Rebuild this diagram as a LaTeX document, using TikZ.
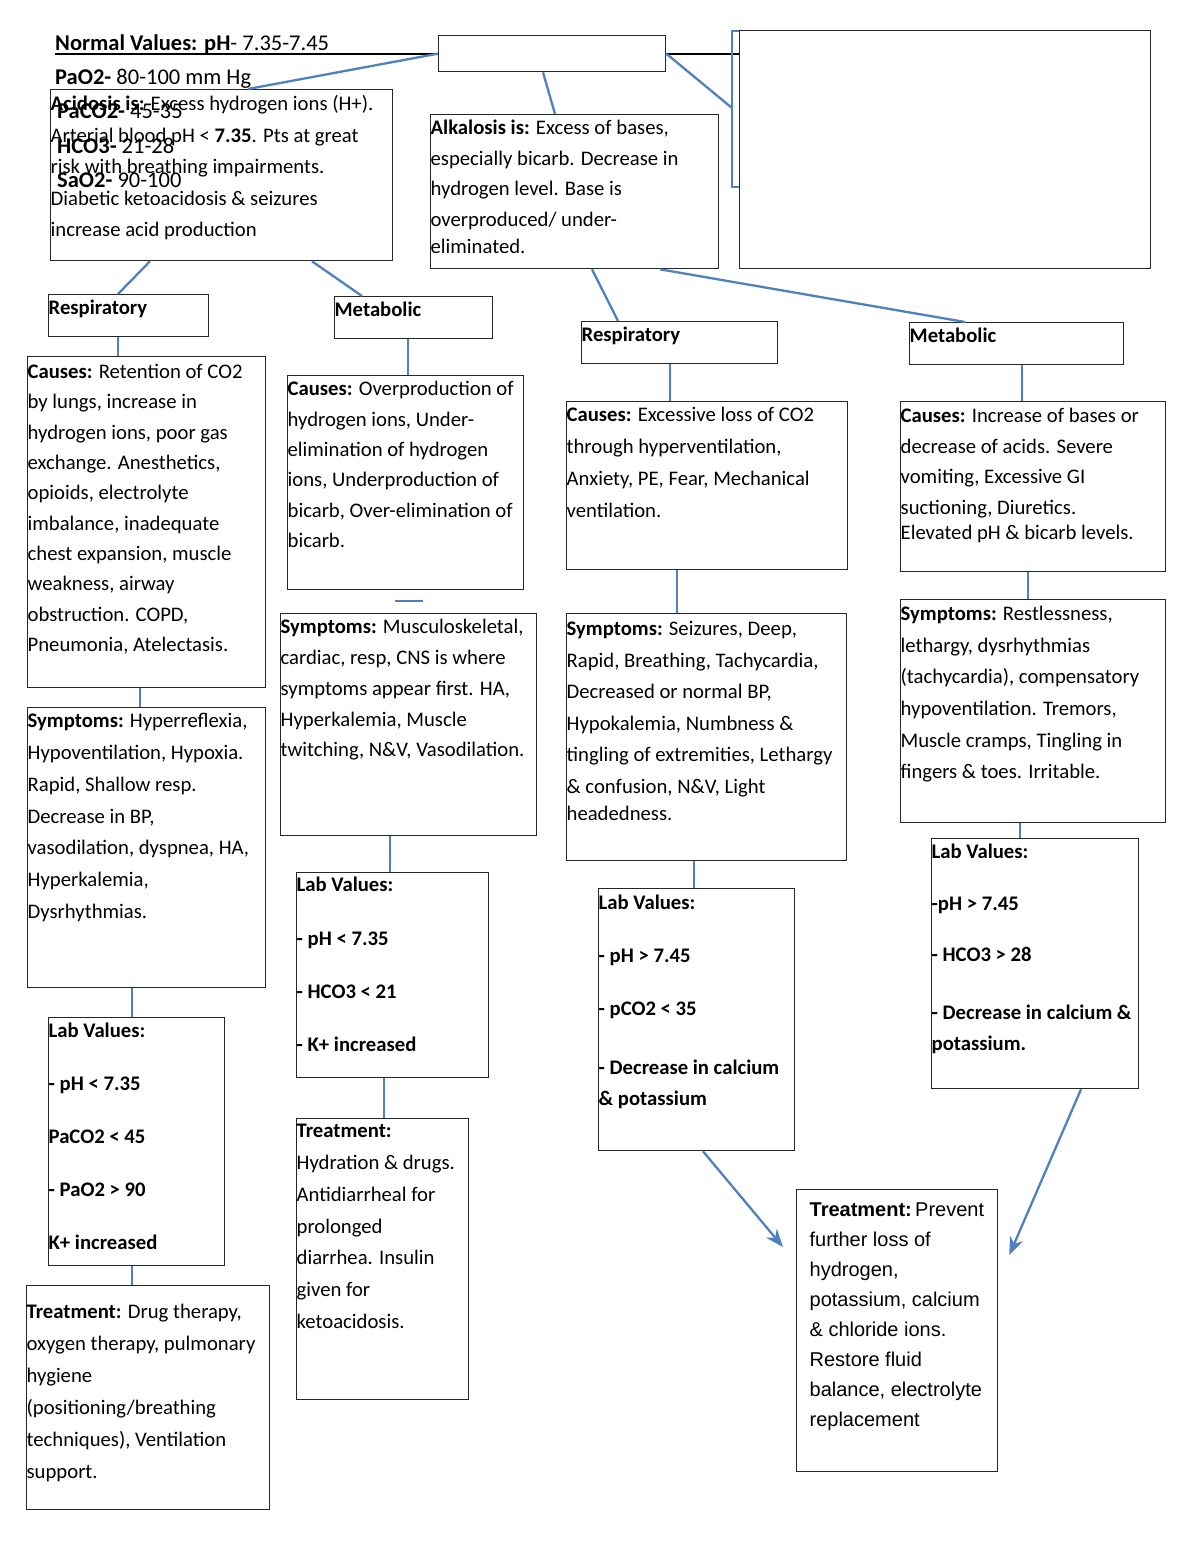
\documentclass[tikz,border=0pt]{standalone}
\usepackage{fontspec}
\setmainfont{Carlito}
\newfontfamily\arialfont{Liberation Sans}
\usetikzlibrary{arrows.meta}

\definecolor{linkblue}{HTML}{4F81BD}
% text block of a fixed box: [first baseline]{width}{height}{lines}
\newcommand{\boxtxt}[4][21pt]{\parbox[t][#3][t]{#2}{\raggedright\rule{0pt}{#1}#4}}

\begin{document}
\begin{tikzpicture}[x=1pt, y=-1pt,
		box/.style={draw=black!85, line width=1.3pt, anchor=north west, inner sep=0pt,
			font=\fontsize{20.7}{31}\selectfont},
		lab/.style={box, font=\fontsize{20.7}{31}\selectfont\bfseries},
		link/.style={draw=linkblue, line width=2.3pt},
		jump/.style={link, -{Stealth[length=18pt, width=14pt]}}
	]
	\useasboundingbox (0,0) rectangle (1200,1553);

	% header
	\node[anchor=north west, inner sep=0pt, font=\fontsize{22.5}{34.3}\selectfont] (normal) at (55,32)
		{\boxtxt[18pt]{380pt}{175pt}{\textbf{Normal Values: pH}- 7.35-7.45\\
		\textbf{PaO2-} 80-100 mm Hg\\
		\hspace*{2pt}\textbf{PaCO2-} 45-35\\
		\hspace*{2pt}\textbf{HCO3-} 21-28\\
		\hspace*{2pt}\textbf{SaO2-} 90-100}};
	\node[box] (title) at (438,35) {\boxtxt{227pt}{36pt}{}};
	\node[box] (notes) at (739,30) {\boxtxt{411pt}{238pt}{}};

	\node[box] (acid) at (50,89) {\boxtxt{342pt}{171pt}{\fontsize{20.7}{31.5}\selectfont
		\textbf{Acidosis is:} Excess hydrogen ions (H+).\\
		Arterial blood pH < \textbf{7.35}. Pts at great\\
		risk with breathing impairments.\\
		Diabetic ketoacidosis \& seizures\\
		increase acid production}};
	\node[box] (alk) at (430,114) {\boxtxt[20pt]{288pt}{154pt}{\fontsize{20.7}{30.5}\selectfont
		\textbf{Alkalosis is:} Excess of bases,\\
		especially bicarb. Decrease in\\
		hydrogen level. Base is\\
		overproduced/ under-\\[-3pt]
		eliminated.}};

	\draw[black, line width=2.2pt] (normal.north west |- title.west) -- (title.west);
	\draw[black, line width=2.2pt] (title.east) -- (title.east -| notes.west);
	\draw[link] (title.west) -- ([xshift=198]acid.north west);
	\draw[link] ([xshift=105]title.south west) -- ([xshift=125]alk.north west);
	\coordinate (brk) at ([xshift=-7,yshift=-78]notes.north west);
	\draw[link] (title.east) -- (brk);
	\draw[link, line width=2pt] ([yshift=-1]notes.north west) -- ++(-7,0) -- ++(0,156) -- ++(7,0);

	% acidosis side
	\node[lab] (respL) at (48,294) {\boxtxt[20pt]{160pt}{42pt}{Respiratory}};
	\node[lab] (metL) at (334,296) {\boxtxt[20pt]{158pt}{42pt}{Metabolic}};
	\draw[link] ([xshift=100]acid.south west) -- ([xshift=70]respL.north west);
	\draw[link] ([xshift=262]acid.south west) -- ([xshift=28]metL.north west);

	\node[box] (causL) at (27,356) {\boxtxt[22pt]{238pt}{331pt}{\fontsize{20.7}{30.3}\selectfont
		\textbf{Causes:} Retention of CO2\\
		by lungs, increase in\\
		hydrogen ions, poor gas\\
		exchange. Anesthetics,\\
		opioids, electrolyte\\
		imbalance, inadequate\\
		chest expansion, muscle\\
		weakness, airway\\
		obstruction. COPD,\\
		Pneumonia, Atelectasis.}};
	\node[box] (symL) at (27,707) {\boxtxt[20pt]{238pt}{280pt}{\fontsize{20.7}{31.8}\selectfont
		\textbf{Symptoms:} Hyperreflexia,\\
		Hypoventilation, Hypoxia.\\
		Rapid, Shallow resp.\\
		Decrease in BP,\\
		vasodilation, dyspnea, HA,\\
		Hyperkalemia,\\
		Dysrhythmias.}};
	\node[lab] (labL) at (48,1017) {\boxtxt[20pt]{176pt}{248pt}{Lab Values:\\[22pt]
		- pH < 7.35\\[22pt]
		PaCO2 < 45\\[22pt]
		- PaO2 > 90\\[22pt]
		K+ increased}};
	\node[box] (treatL) at (26,1285) {\boxtxt[33pt]{243pt}{224pt}{\fontsize{20.7}{32}\selectfont
		\textbf{Treatment:} Drug therapy,\\
		oxygen therapy, pulmonary\\
		hygiene\\
		(positioning/breathing\\
		techniques), Ventilation\\
		support.}};

	\draw[link] ([xshift=70]respL.south west) -- ([xshift=70]respL.south west |- causL.north);
	\draw[link] ([xshift=113]causL.south west) -- ([xshift=113]causL.south west |- symL.north);
	\draw[link] ([xshift=105]symL.south west) -- ([xshift=105]symL.south west |- labL.north);
	\draw[link] ([xshift=84]labL.south west) -- ([xshift=84]labL.south west |- treatL.north);

	\node[box] (causM) at (287,375) {\boxtxt[20pt]{236pt}{214pt}{\fontsize{20.7}{30.4}\selectfont
		\textbf{Causes:} Overproduction of\\
		hydrogen ions, Under-\\
		elimination of hydrogen\\
		ions, Underproduction of\\
		bicarb, Over-elimination of\\
		bicarb.}};
	\node[box] (symM) at (280,613) {\boxtxt[20pt]{256pt}{222pt}{\fontsize{20.7}{30.8}\selectfont
		\textbf{Symptoms:} Musculoskeletal,\\
		cardiac, resp, CNS is where\\
		symptoms appear first. HA,\\
		Hyperkalemia, Muscle\\
		twitching, N\&V, Vasodilation.}};
	\node[lab] (labM) at (296,872) {\boxtxt[19pt]{192pt}{205pt}{Lab Values:\\[23pt]
		- pH < 7.35\\[22pt]
		- HCO3 < 21\\[22pt]
		- K+ increased}};
	\node[box] (treatM) at (296,1118) {\boxtxt[19pt]{172pt}{281pt}{\fontsize{20.7}{31.8}\selectfont
		\textbf{Treatment:}\\
		Hydration \& drugs.\\
		Antidiarrheal for\\
		prolonged\\
		diarrhea. Insulin\\
		given for\\
		ketoacidosis.}};

	\draw[link] ([xshift=74]metL.south west) -- ([xshift=74]metL.south west |- causM.north);
	\draw[link] ([xshift=108,yshift=-11]causM.south west) -- ++(28,0);
	\draw[link] ([xshift=110]symM.south west) -- ([xshift=110]symM.south west |- labM.north);
	\draw[link] ([xshift=88]labM.south west) -- ([xshift=88]labM.south west |- treatM.north);

	% alkalosis side
	\node[lab] (respR) at (581,321) {\boxtxt[20pt]{196pt}{42pt}{Respiratory}};
	\node[lab] (metR) at (909,322) {\boxtxt[20pt]{214pt}{42pt}{Metabolic}};
	\draw[link] ([xshift=162]alk.south west) -- ([xshift=37]respR.north west);
	\draw[link] ([xshift=230]alk.south west) -- ([xshift=56]metR.north west);

	\node[box] (causR) at (566,401) {\boxtxt[20pt]{281pt}{168pt}{\fontsize{20.7}{32}\selectfont
		\textbf{Causes:} Excessive loss of CO2\\
		through hyperventilation,\\
		Anxiety, PE, Fear, Mechanical\\
		ventilation.}};
	\node[box] (symR) at (566,613) {\boxtxt[22pt]{280pt}{247pt}{\fontsize{20.7}{31.5}\selectfont
		\textbf{Symptoms:} Seizures, Deep,\\
		Rapid, Breathing, Tachycardia,\\
		Decreased or normal BP,\\
		Hypokalemia, Numbness \&\\
		tingling of extremities, Lethargy\\
		\& confusion, N\&V, Light\\[-4pt]
		headedness.}};
	\node[lab] (labR) at (598,888) {\boxtxt[21pt]{196pt}{262pt}{Lab Values:\\[22pt]
		- pH > 7.45\\[22pt]
		- pCO2 < 35\\[28pt]
		- Decrease in calcium\\
		\& potassium}};

	\draw[link] ([xshift=89]respR.south west) -- ([xshift=89]respR.south west |- causR.north);
	\draw[link] ([xshift=111]causR.south west) -- ([xshift=111]causR.south west |- symR.north);
	\draw[link] ([xshift=128]symR.south west) -- ([xshift=128]symR.south west |- labR.north);

	\node[box] (causB) at (900,401) {\boxtxt[21pt]{265pt}{170pt}{\fontsize{20.7}{30.5}\selectfont
		\textbf{Causes:} Increase of bases or\\
		decrease of acids. Severe\\
		vomiting, Excessive GI\\
		suctioning, Diuretics.\\[-5pt]
		Elevated pH \& bicarb levels.}};
	\node[box] (symB) at (900,599) {\boxtxt[21pt]{265pt}{223pt}{\fontsize{20.7}{31.6}\selectfont
		\textbf{Symptoms:} Restlessness,\\
		lethargy, dysrhythmias\\
		(tachycardia), compensatory\\
		hypoventilation. Tremors,\\
		Muscle cramps, Tingling in\\
		fingers \& toes. Irritable.}};
	\node[lab] (labB) at (931,838) {\boxtxt[20pt]{207pt}{250pt}{Lab Values:\\[21pt]
		-pH > 7.45\\[20pt]
		- HCO3 > 28\\[27pt]
		- Decrease in calcium \&\\
		potassium.}};

	\draw[link] ([xshift=113]metR.south west) -- ([xshift=113]metR.south west |- causB.north);
	\draw[link] ([xshift=128]causB.south west) -- ([xshift=128]causB.south west |- symB.north);
	\draw[link] ([xshift=120]symB.south west) -- ([xshift=120]symB.south west |- labB.north);

	% shared treatment
	\node[box, font=\arialfont\fontsize{20}{30}\selectfont] (final) at (796,1189)
		{\hspace*{13pt}\boxtxt[27pt]{188pt}{282pt}{\textbf{Treatment:}\,Prevent\\
		further loss of\\
		hydrogen,\\
		potassium, calcium\\
		\& chloride ions.\\
		Restore fluid\\
		balance, electrolyte\\
		replacement}};

	\draw[jump] ([xshift=105]labR.south west) -- ([xshift=-13,yshift=-58]final.north west);
	\draw[jump] ([xshift=150]labB.south west) -- ([xshift=11,yshift=-66]final.north east);
\end{tikzpicture}
\end{document}
